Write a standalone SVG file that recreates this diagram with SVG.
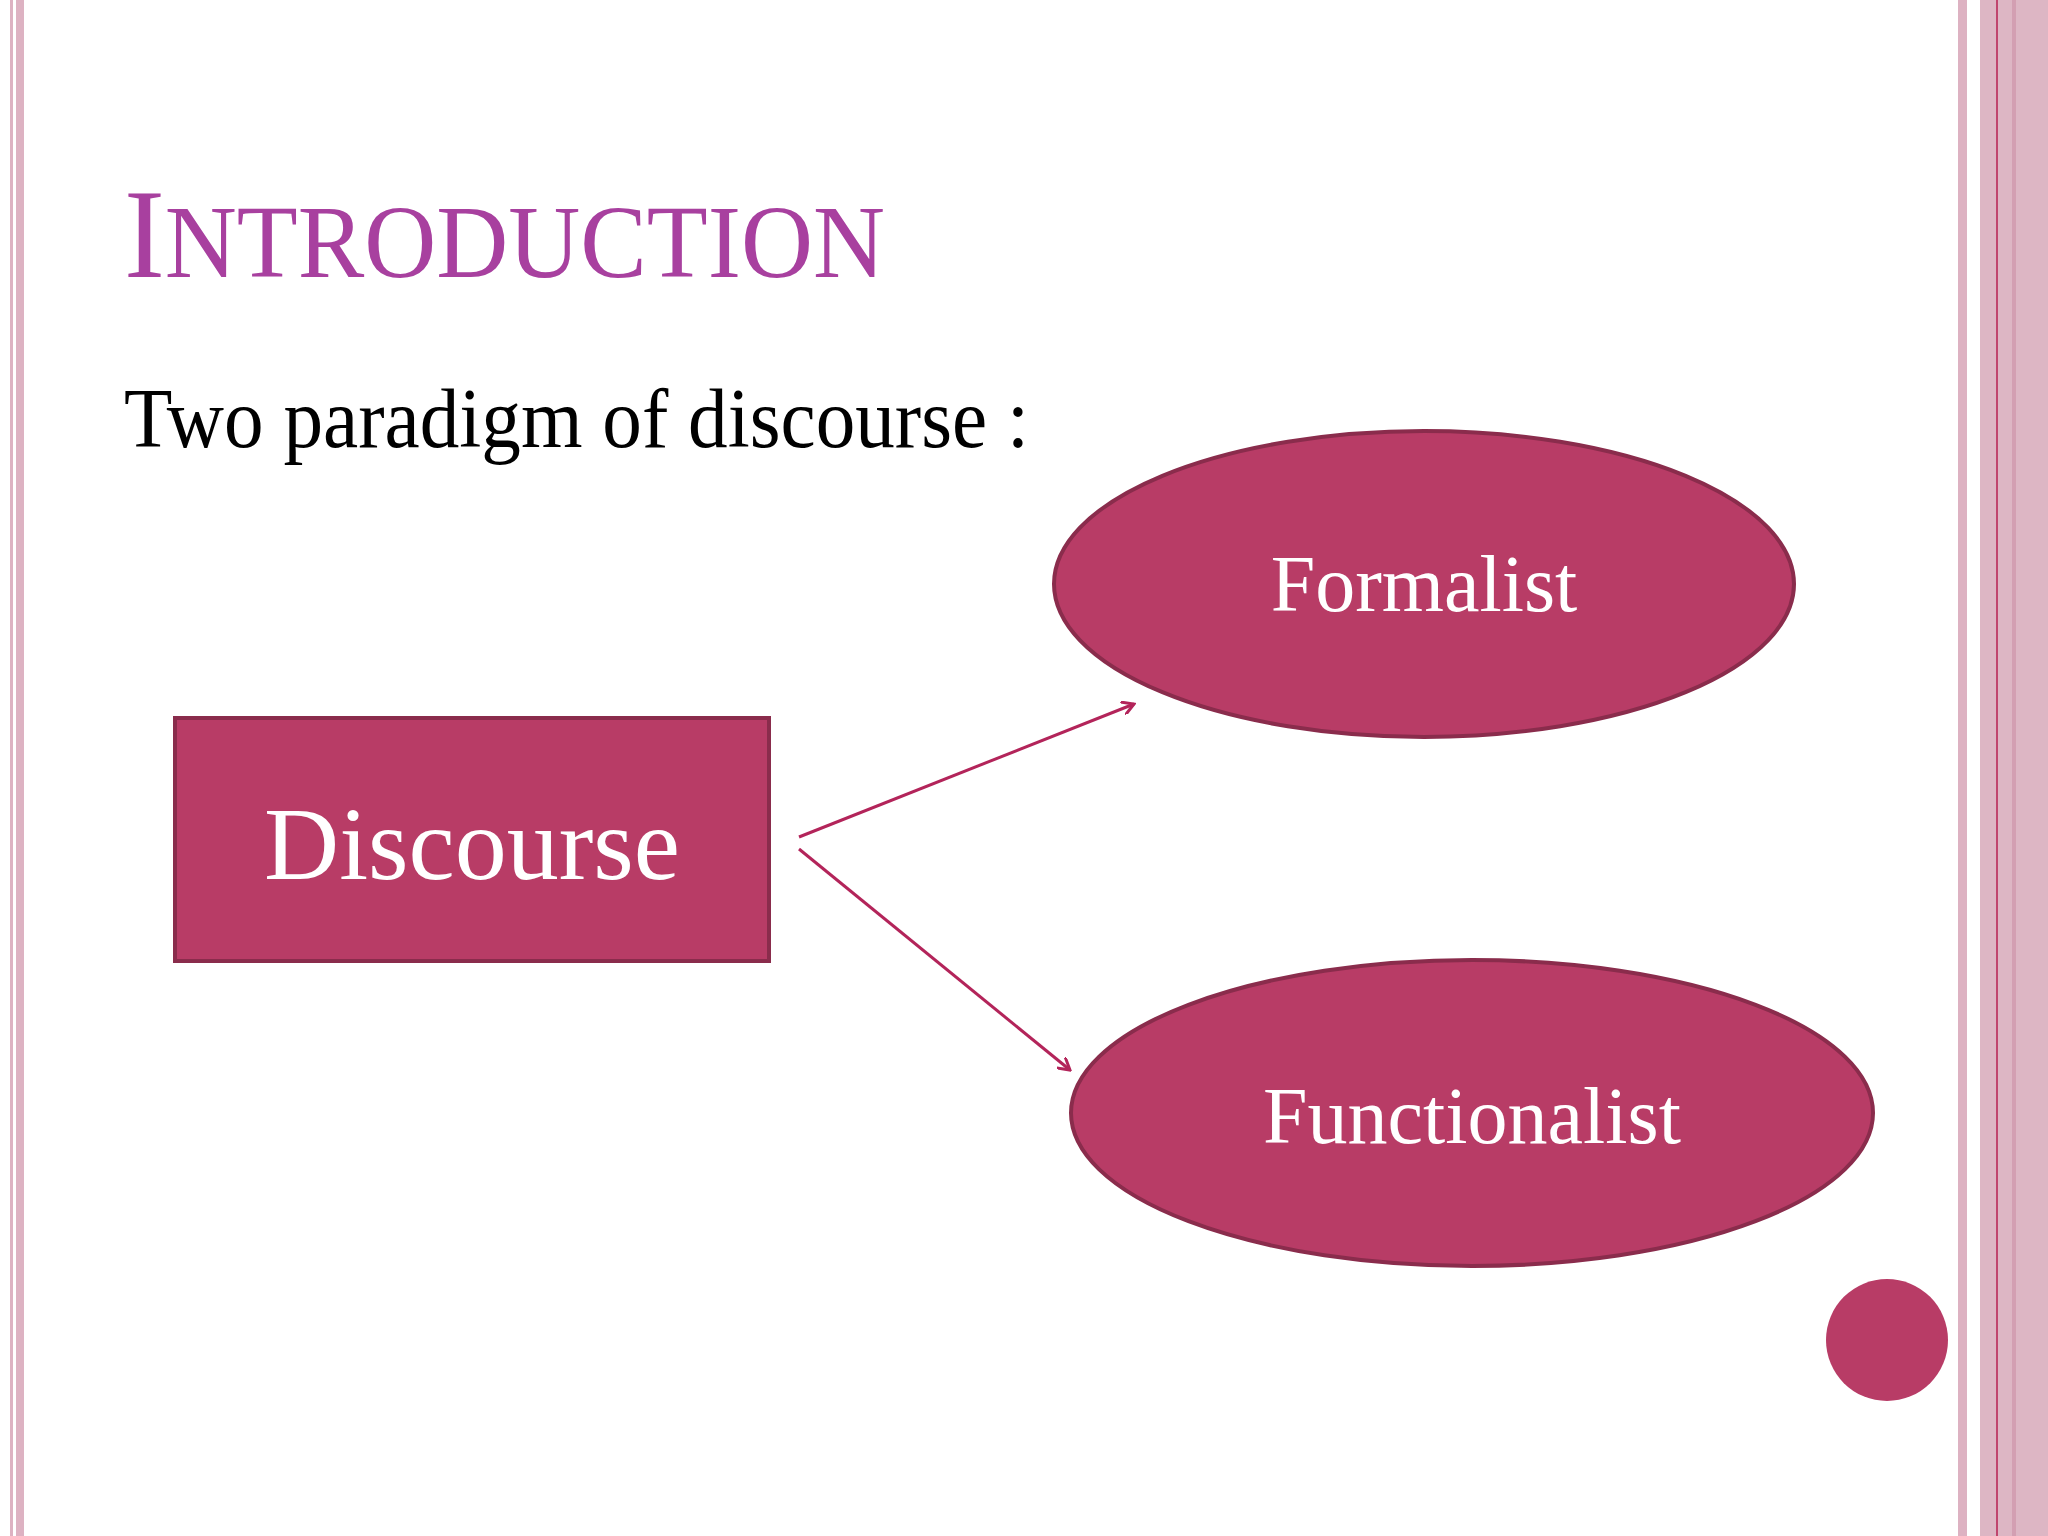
<svg xmlns="http://www.w3.org/2000/svg" width="2048" height="1536" viewBox="0 0 2048 1536">
<defs>
<style>
.n{fill:#b83c66;stroke:#8a2c4c;stroke-width:4}
.t{font-family:"Liberation Serif",serif;fill:#fff;text-anchor:middle}
.c{stroke:#b3245a;stroke-width:3;fill:none}
</style>
<marker id="a" markerWidth="14" markerHeight="14" refX="12" refY="7" orient="auto" markerUnits="userSpaceOnUse"><path d="M0,0 L12,7 L0,14" fill="none" stroke="#b3245a" stroke-width="3"/></marker>
</defs>
<rect width="2048" height="1536" fill="#fff"/>
<rect x="10" y="0" width="3" height="1536" fill="#ddb2c2"/>
<rect x="16" y="0" width="8" height="1536" fill="#ddb2c2"/>
<rect x="1958" y="0" width="9" height="1536" fill="#ddb2c2"/>
<rect x="1980" y="0" width="68" height="1536" fill="#ddb6c4"/>
<rect x="1996" y="0" width="2" height="1536" fill="#c0456e"/>
<rect x="2012" y="0" width="4" height="1536" fill="#d39fb2"/>
<text x="124" y="277" font-family="Liberation Serif,serif" fill="#a8409f" font-size="128" textLength="761" lengthAdjust="spacingAndGlyphs">I<tspan font-size="104">NTRODUCTION</tspan></text>
<text x="124" y="447" font-family="Liberation Serif,serif" fill="#000" font-size="84" textLength="905" lengthAdjust="spacingAndGlyphs">Two paradigm of discourse :</text>
<g id="connectors">
<line class="c" x1="799" y1="837" x2="1134" y2="704" marker-end="url(#a)"/>
<line class="c" x1="799" y1="849" x2="1070" y2="1070" marker-end="url(#a)"/>
</g>
<g id="discourse"><rect class="n" x="175" y="718" width="594" height="243"/><text class="t" x="472" y="879" font-size="104">Discourse</text></g>
<g id="formalist"><ellipse class="n" cx="1424" cy="584" rx="370" ry="153"/><text class="t" x="1424" y="611" font-size="80">Formalist</text></g>
<g id="functionalist"><ellipse class="n" cx="1472" cy="1113" rx="401" ry="153"/><text class="t" x="1472" y="1143" font-size="80">Functionalist</text></g>
<circle cx="1887" cy="1340" r="61" fill="#b83c66"/>
</svg>
